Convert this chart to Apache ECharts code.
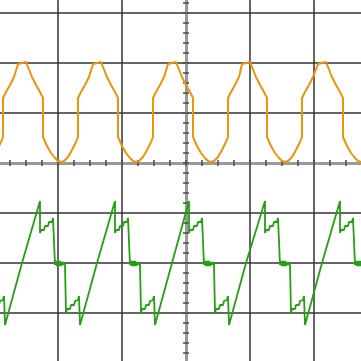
<!DOCTYPE html>
<html>
<head>
<meta charset="utf-8">
<script src="https://cdn.jsdelivr.net/npm/echarts@6/dist/echarts.min.js"></script>
<style>html,body{margin:0;padding:0;background:#fff}#c{width:361px;height:361px}</style>
</head>
<body>
<div id="c"></div>
<script>
// time axis: samples (1 division = 64), voltage axis: volts (1 division = 1 V)
const timeRange = [-192, 192];
const timeDiv = 64;
const voltRange = [-4, 4];
const voltDiv = 1;

// Channel 1 (orange) trace: [time, volts]
const ch1Trace = [
  [-200,0.02],[-197,0.04],[-193,0.12],[-189,0.26],[-185,0.42],[-183,0.52],[-183,1.30],[-180,1.42],[-176,1.56],[-172,1.72],
  [-168,1.98],[-166,2.02],[-160,2.02],[-158,1.98],[-154,1.72],[-150,1.56],[-146,1.42],[-143,1.30],[-143,0.52],[-139,0.34],[-135,0.20],[-131,0.10],[-128,0.04],[-125,0.02],[-122,0.04],[-118,0.12],[-114,0.26],[-110,0.42],[-108,0.52],[-108,1.30],[-105,1.42],[-101,1.56],[-97,1.72],
  [-93,1.98],[-91,2.02],[-85,2.02],[-83,1.98],[-79,1.72],[-75,1.56],[-71,1.42],[-68,1.30],[-68,0.52],[-64,0.34],[-60,0.20],[-56,0.10],[-53,0.04],[-50,0.02],[-47,0.04],[-43,0.12],[-39,0.26],[-35,0.42],[-33,0.52],[-33,1.30],[-30,1.42],[-26,1.56],[-22,1.72],
  [-18,1.98],[-16,2.02],[-10,2.02],[-8,1.98],[-4,1.72],[0,1.56],[4,1.42],[7,1.30],[7,0.52],[11,0.34],[15,0.20],[19,0.10],[22,0.04],[25,0.02],[28,0.04],[32,0.12],[36,0.26],[40,0.42],[42,0.52],[42,1.30],[45,1.42],[49,1.56],[53,1.72],
  [56,1.98],[58,2.02],[64,2.02],[66,1.98],[70,1.72],[74,1.56],[78,1.42],[81,1.30],[81,0.52],[85,0.34],[89,0.20],[93,0.10],[96,0.04],[99,0.02],[102,0.04],[106,0.12],[110,0.26],[114,0.42],[116,0.52],[116,1.30],[119,1.42],[123,1.56],[127,1.72],
  [132,1.98],[134,2.02],[140,2.02],[142,1.98],[146,1.72],[150,1.56],[154,1.42],[157,1.30],[157,0.52],[161,0.34],[165,0.20],[169,0.10],[172,0.04],[175,0.02],[178,0.04],[182,0.12],[186,0.26]
];

// Channel 2 (green) trace: [time, volts]
const ch2Trace = [
  [-209,-1.18],[-208,-1.10],[-207,-1.14],[-206,-1.08],
  [-206,-2.04],[-205,-1.96],[-204,-2.06],[-203,-1.96],[-202,-2.06],[-201,-1.96],[-200,-2.06],[-199,-1.98],[-198,-2.04],[-197,-1.98],[-196,-2.04],[-195,-2.00],
  [-195,-3.00],[-194,-2.92],[-193,-2.96],[-192,-2.88],[-191,-2.92],[-190,-2.84],[-189,-2.88],[-188,-2.80],[-187,-2.84],[-186,-2.76],[-185,-2.80],[-184,-2.72],[-183,-2.74],[-182,-2.66],[-181,-2.62],[-181,-3.24],[-164,-2.00],

  [-146,-0.76],[-146,-1.40],[-145,-1.34],[-144,-1.38],[-143,-1.30],[-142,-1.34],[-141,-1.26],[-140,-1.30],[-139,-1.22],[-138,-1.26],[-137,-1.18],[-136,-1.22],[-135,-1.14],[-134,-1.18],[-133,-1.10],[-132,-1.14],[-131,-1.08],
  [-131,-2.04],[-130,-1.96],[-129,-2.06],[-128,-1.96],[-127,-2.06],[-126,-1.96],[-125,-2.06],[-124,-1.98],[-123,-2.04],[-122,-1.98],[-121,-2.04],[-120,-2.00],
  [-120,-3.00],[-119,-2.92],[-118,-2.96],[-117,-2.88],[-116,-2.92],[-115,-2.84],[-114,-2.88],[-113,-2.80],[-112,-2.84],[-111,-2.76],[-110,-2.80],[-109,-2.72],[-108,-2.74],[-107,-2.66],[-106,-2.62],[-106,-3.24],[-89,-2.00],

  [-71,-0.76],[-71,-1.40],[-70,-1.34],[-69,-1.38],[-68,-1.30],[-67,-1.34],[-66,-1.26],[-65,-1.30],[-64,-1.22],[-63,-1.26],[-62,-1.18],[-61,-1.22],[-60,-1.14],[-59,-1.18],[-58,-1.10],[-57,-1.14],[-56,-1.08],
  [-56,-2.04],[-55,-1.96],[-54,-2.06],[-53,-1.96],[-52,-2.06],[-51,-1.96],[-50,-2.06],[-49,-1.98],[-48,-2.04],[-47,-1.98],[-46,-2.04],[-45,-2.00],
  [-45,-3.00],[-44,-2.92],[-43,-2.96],[-42,-2.88],[-41,-2.92],[-40,-2.84],[-39,-2.88],[-38,-2.80],[-37,-2.84],[-36,-2.76],[-35,-2.80],[-34,-2.72],[-33,-2.74],[-32,-2.66],[-31,-2.62],[-31,-3.24],[-14,-2.00],

  [3,-0.76],[3,-1.40],[4,-1.34],[5,-1.38],[6,-1.30],[7,-1.34],[8,-1.26],[9,-1.30],[10,-1.22],[11,-1.26],[12,-1.18],[13,-1.22],[14,-1.14],[15,-1.18],[16,-1.10],[17,-1.14],[18,-1.08],
  [18,-2.04],[19,-1.96],[20,-2.06],[21,-1.96],[22,-2.06],[23,-1.96],[24,-2.06],[25,-1.98],[26,-2.04],[27,-1.98],[28,-2.04],[29,-2.00],
  [29,-3.00],[30,-2.92],[31,-2.96],[32,-2.88],[33,-2.92],[34,-2.84],[35,-2.88],[36,-2.80],[37,-2.84],[38,-2.76],[39,-2.80],[40,-2.72],[41,-2.74],[42,-2.66],[43,-2.62],[43,-3.24],[60,-2.00],

  [79,-0.76],[79,-1.40],[80,-1.34],[81,-1.38],[82,-1.30],[83,-1.34],[84,-1.26],[85,-1.30],[86,-1.22],[87,-1.26],[88,-1.18],[89,-1.22],[90,-1.14],[91,-1.18],[92,-1.10],[93,-1.14],[94,-1.08],
  [94,-2.04],[95,-1.96],[96,-2.06],[97,-1.96],[98,-2.06],[99,-1.96],[100,-2.06],[101,-1.98],[102,-2.04],[103,-1.98],[104,-2.04],[105,-2.00],
  [105,-3.00],[106,-2.92],[107,-2.96],[108,-2.88],[109,-2.92],[110,-2.84],[111,-2.88],[112,-2.80],[113,-2.84],[114,-2.76],[115,-2.80],[116,-2.72],[117,-2.74],[118,-2.66],[119,-2.62],[119,-3.24],[136,-2.00],

  [154,-0.76],[154,-1.40],[155,-1.34],[156,-1.38],[157,-1.30],[158,-1.34],[159,-1.26],[160,-1.30],[161,-1.22],[162,-1.26],[163,-1.18],[164,-1.22],[165,-1.14],[166,-1.18],[167,-1.10],[168,-1.14],[169,-1.08],
  [169,-2.04],[170,-1.96],[171,-2.06],[172,-1.96],[173,-2.06],[174,-1.96],[175,-2.06],[176,-1.98],[177,-2.04],[178,-1.98],[179,-2.04],[180,-2.00],[180,-3.00],[184,-2.80]
];

const AXIS_GRAY = '#9a9a9a';
const TICK = '#4a4a4a';
const GRID = '#333333';

function xAx(pos, grid) {
  return {
    type: 'value', position: pos, min: timeRange[0], max: timeRange[1], interval: timeDiv,
    axisLine: { show: true, onZero: true, onZeroAxisIndex: 0, lineStyle: { color: AXIS_GRAY, width: 3 } },
    axisTick: { show: true, length: 3, lineStyle: { color: TICK, width: 1.5 } },
    minorTick: { show: true, splitNumber: 4, length: 3, lineStyle: { color: TICK, width: 1.5 } },
    axisLabel: { show: false },
    splitLine: { show: grid, lineStyle: { color: GRID, width: 1.5 } }
  };
}
function yAx(pos, grid) {
  return {
    type: 'value', position: pos, min: voltRange[0], max: voltRange[1], interval: voltDiv,
    axisLine: { show: true, onZero: true, onZeroAxisIndex: 0, lineStyle: { color: AXIS_GRAY, width: 3 } },
    axisTick: { show: true, length: 3, lineStyle: { color: TICK, width: 1.5 } },
    minorTick: { show: true, splitNumber: 5, length: 3, lineStyle: { color: TICK, width: 1.5 } },
    axisLabel: { show: false },
    splitLine: { show: grid, lineStyle: { color: GRID, width: 1.5 } }
  };
}

const chart = echarts.init(document.getElementById('c'), null, { renderer: 'canvas' });
chart.setOption({
  animation: false,
  backgroundColor: '#ffffff',
  grid: { left: -6, top: -37, width: 384, height: 400, containLabel: false, outerBoundsMode: 'none' },
  xAxis: [xAx('bottom', true), xAx('top', false)],
  yAxis: [yAx('left', true), yAx('right', false)],
  series: [
    { name: 'CH1', type: 'line', xAxisIndex: 0, yAxisIndex: 0, data: ch1Trace, symbol: 'none', showSymbol: false,
      lineStyle: { color: '#f0920a', width: 2 }, itemStyle: { color: '#f0920a' }, z: 3 },
    { name: 'CH2', type: 'line', xAxisIndex: 0, yAxisIndex: 0, data: ch2Trace, symbol: 'none', showSymbol: false,
      lineStyle: { color: '#24a012', width: 1.8 }, itemStyle: { color: '#24a012' }, z: 3 }
  ]
});
</script>
</body>
</html>
